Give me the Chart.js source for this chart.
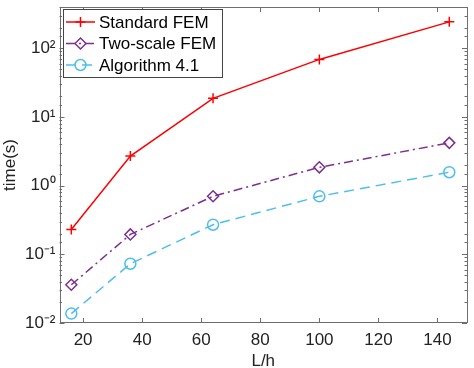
<!DOCTYPE html>
<html>
<head>
<meta charset="utf-8">
<script src="https://cdn.jsdelivr.net/npm/chart.js@4.4.0/dist/chart.umd.min.js"></script>
<style>
  html, body { margin: 0; padding: 0; background: #fff; }
  #wrap { width: 474px; height: 368px; }
</style>
</head>
<body>
<div id="wrap"><canvas id="myChart" width="474" height="368"></canvas></div>
<script>
// L/h
var lh = [16, 36, 64, 100, 144];
// time (s) per method
var standardFem = [0.23, 2.7, 18.7, 69, 243];
var twoScaleFem = [0.036, 0.195, 0.70, 1.85, 4.2];
var algorithm41 = [0.0137, 0.073, 0.27, 0.70, 1.57];

var xTicks = [20, 40, 60, 80, 100, 120, 140];
var yDecades = [0.01, 0.1, 1, 10, 100];
var yLabels = ['10\u207B\u00B2', '10\u207B\u00B9', '10\u2070', '10\u00B9', '10\u00B2'];

var FONT = "'Liberation Sans', Arial, Helvetica, sans-serif";
var AXIS_COLOR = '#6e6e6e';

function pts(ys) {
  return lh.map(function (x, i) { return { x: x, y: ys[i] }; });
}

function decadeIndex(v) {
  for (var i = 0; i < yDecades.length; i++) {
    if (Math.abs(v - yDecades[i]) / yDecades[i] < 1e-6) return i;
  }
  return -1;
}

// box + inward ticks like matlab
var axesBox = {
  id: 'axesBox',
  beforeDatasetsDraw: function (chart) {
    var ctx = chart.ctx, a = chart.chartArea;
    var xs = chart.scales.x, ys = chart.scales.y;
    ctx.save();
    ctx.strokeStyle = AXIS_COLOR;
    ctx.lineWidth = 1;
    ctx.beginPath();
    xs.ticks.forEach(function (t) {
      var px = Math.round(xs.getPixelForValue(t.value)) + 0.5;
      ctx.moveTo(px, a.bottom); ctx.lineTo(px, a.bottom - 5);
      ctx.moveTo(px, a.top); ctx.lineTo(px, a.top + 5);
    });
    ys.ticks.forEach(function (t) {
      var len = decadeIndex(t.value) >= 0 ? 5 : 2.5;
      var py = Math.round(ys.getPixelForValue(t.value)) + 0.5;
      ctx.moveTo(a.left, py); ctx.lineTo(a.left + len, py);
      ctx.moveTo(a.right, py); ctx.lineTo(a.right - len, py);
    });
    ctx.stroke();
    ctx.strokeRect(Math.round(a.left) + 0.5, Math.round(a.top) + 0.5,
      Math.round(a.right - a.left) - 1, Math.round(a.bottom - a.top) - 1);
    ctx.restore();
  }
};

// legend in the top-left corner of the axes
var boxLegend = {
  id: 'boxLegend',
  afterDraw: function (chart) {
    var ctx = chart.ctx;
    var bx = 63.5, by = 9.5, bw = 159, bh = 68;
    ctx.save();
    ctx.fillStyle = '#fff';
    ctx.fillRect(bx, by, bw, bh);
    ctx.strokeStyle = '#444';
    ctx.lineWidth = 1;
    ctx.strokeRect(bx, by, bw, bh);
    chart.data.datasets.forEach(function (ds, i) {
      var y = 22 + i * 21.5;
      ctx.strokeStyle = ds.borderColor;
      ctx.lineWidth = ds.borderWidth;
      ctx.setLineDash(ds.borderDash || []);
      ctx.beginPath();
      ctx.moveTo(66, y); ctx.lineTo(95, y);
      ctx.stroke();
      ctx.setLineDash([]);
      ctx.fillStyle = 'rgba(0,0,0,0)';
      ctx.lineWidth = ds.pointBorderWidth;
      Chart.helpers.drawPoint(ctx, {
        pointStyle: ds.pointStyle, radius: ds.pointRadius, rotation: 0,
        borderWidth: ds.pointBorderWidth
      }, 80.5, y);
      ctx.fillStyle = '#000';
      ctx.font = '17px ' + FONT;
      ctx.textBaseline = 'middle';
      ctx.textAlign = 'left';
      ctx.fillText(ds.label, 99, y + 1);
    });
    ctx.restore();
  }
};

var ctx = document.getElementById('myChart').getContext('2d');
var chart = new Chart(ctx, {
  type: 'line',
  data: {
    datasets: [{
      label: 'Standard FEM',
      data: pts(standardFem),
      borderColor: '#ff0000',
      borderWidth: 1.5,
      pointStyle: 'cross',
      pointRadius: 5,
      pointBorderWidth: 1.5,
      pointBorderColor: '#ff0000',
      pointBackgroundColor: 'rgba(0,0,0,0)'
    }, {
      label: 'Two-scale FEM',
      data: pts(twoScaleFem),
      borderColor: '#7e2f8e',
      borderWidth: 1.5,
      borderDash: [9, 4, 2, 4],
      pointStyle: 'rectRot',
      pointRadius: 5.5,
      pointBorderWidth: 1.5,
      pointBorderColor: '#7e2f8e',
      pointBackgroundColor: 'rgba(0,0,0,0)'
    }, {
      label: 'Algorithm 4.1',
      data: pts(algorithm41),
      borderColor: '#4dbeee',
      borderWidth: 1.5,
      borderDash: [10, 6],
      pointStyle: 'circle',
      pointRadius: 5.5,
      pointBorderWidth: 1.5,
      pointBorderColor: '#4dbeee',
      pointBackgroundColor: 'rgba(0,0,0,0)'
    }]
  },
  options: {
    responsive: false,
    animation: false,
    layout: { padding: { top: 2, right: 2, left: 0, bottom: 0 } },
    plugins: {
      legend: { display: false },
      tooltip: { enabled: false }
    },
    scales: {
      x: {
        type: 'linear',
        min: 12,
        max: 150,
        grid: { display: false, drawTicks: false },
        border: { display: false },
        afterBuildTicks: function (scale) {
          scale.ticks = xTicks.map(function (v) { return { value: v }; });
        },
        afterFit: function (scale) {
          scale.height = 45;
          scale.paddingLeft = 0; scale.paddingRight = 0;
        },
        ticks: {
          autoSkip: false,
          maxRotation: 0,
          padding: 7,
          color: '#222',
          font: { family: FONT, size: 17 }
        },
        title: {
          display: true,
          text: 'L/h',
          color: '#222',
          padding: { top: 0, bottom: -4 },
          font: { family: FONT, size: 17 }
        }
      },
      y: {
        type: 'logarithmic',
        min: 0.01,
        max: 400,
        grid: { display: false, drawTicks: false },
        border: { display: false },
        afterFit: function (scale) {
          scale.width = 59.5;
          scale.paddingTop = 0; scale.paddingBottom = 0;
        },
        ticks: {
          autoSkip: false,
          padding: 4,
          color: '#222',
          font: { family: FONT, size: 17 },
          callback: function (v) {
            var i = decadeIndex(v);
            return i >= 0 ? yLabels[i] : '';
          }
        },
        title: {
          display: true,
          text: 'time(s)',
          color: '#222',
          padding: 0,
          font: { family: FONT, size: 17 }
        }
      }
    }
  },
  plugins: [axesBox, boxLegend]
});
</script>
</body>
</html>
